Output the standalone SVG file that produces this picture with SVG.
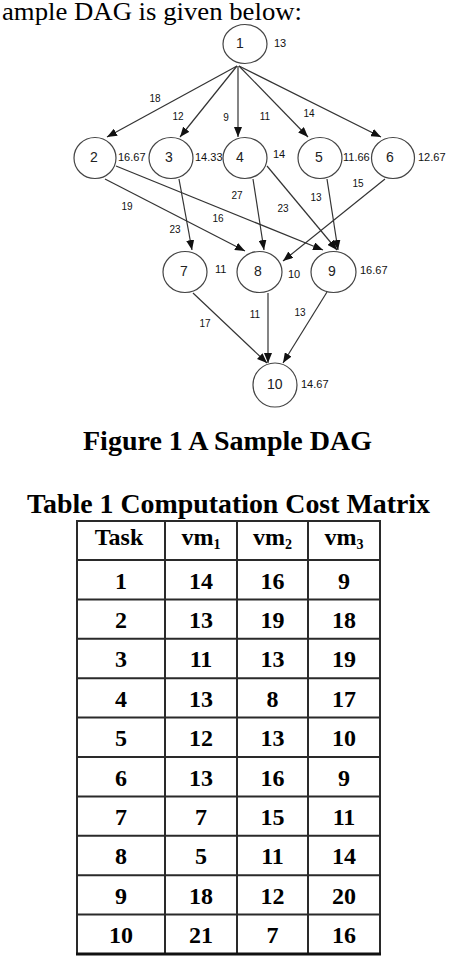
<svg xmlns="http://www.w3.org/2000/svg" width="468" height="956" viewBox="0 0 468 956">
<style>
.node{fill:#fff;stroke:#444;stroke-width:1.2}
.nt{font-family:"Liberation Sans",Arial,sans-serif;font-size:14px;fill:#222}
.wt{font-family:"Liberation Sans",Arial,sans-serif;font-size:11px;fill:#111}
.el{font-family:"Liberation Sans",Arial,sans-serif;font-size:10px;fill:#111;text-anchor:middle}
.edge{stroke:#333;stroke-width:1.2;fill:none;marker-end:url(#arr)}
.cap{font-family:"Liberation Serif","Times New Roman",serif;font-weight:bold;font-size:27px;fill:#000}
.top{font-family:"Liberation Serif","Times New Roman",serif;font-size:25px;fill:#000}
.grid{stroke:#2a2a2a;stroke-width:2;fill:none}
.td{font-family:"Liberation Serif","Times New Roman",serif;font-weight:bold;font-size:24px;fill:#000;text-anchor:middle}
</style>
<defs>
<marker id="arr" viewBox="0 0 10 8" refX="10" refY="4" markerWidth="10" markerHeight="8" markerUnits="userSpaceOnUse" orient="auto">
<path d="M0,0 L10,4 L0,8 Z" fill="#111"/>
</marker>
</defs>
<rect width="468" height="956" fill="#fff"/>
<text class="top" x="2" y="20" textLength="300" lengthAdjust="spacingAndGlyphs">ample DAG is given below:</text>

<g id="connectors">
<line class="edge" x1="237" y1="66" x2="107" y2="137"/>
<line class="edge" x1="237" y1="66" x2="180" y2="137"/>
<line class="edge" x1="238" y1="66" x2="238" y2="137"/>
<line class="edge" x1="239" y1="66" x2="308" y2="137"/>
<line class="edge" x1="239" y1="66" x2="381" y2="137"/>
<line class="edge" x1="105" y1="179" x2="245" y2="251"/>
<line class="edge" x1="116" y1="166" x2="323" y2="250"/>
<line class="edge" x1="179" y1="179" x2="192" y2="250"/>
<line class="edge" x1="253" y1="179" x2="264" y2="250"/>
<line class="edge" x1="267" y1="166" x2="337" y2="250"/>
<line class="edge" x1="327" y1="179" x2="338" y2="250"/>
<line class="edge" x1="385" y1="179" x2="283" y2="261"/>
<line class="edge" x1="193" y1="293" x2="267" y2="363"/>
<line class="edge" x1="268" y1="293" x2="268" y2="363"/>
<line class="edge" x1="327" y1="292" x2="283" y2="363"/>
<text class="el" x="155" y="102">18</text>
<text class="el" x="178" y="120">12</text>
<text class="el" x="226" y="121">9</text>
<text class="el" x="265" y="120">11</text>
<text class="el" x="309" y="117">14</text>
<text class="el" x="127" y="210">19</text>
<text class="el" x="218" y="222">16</text>
<text class="el" x="175" y="233">23</text>
<text class="el" x="237" y="199">27</text>
<text class="el" x="283" y="212">23</text>
<text class="el" x="316" y="201">13</text>
<text class="el" x="358" y="187">15</text>
<text class="el" x="205" y="327">17</text>
<text class="el" x="255" y="318">11</text>
<text class="el" x="300" y="316">13</text>
</g>

<g id="n1"><ellipse class="node" cx="245" cy="44" rx="22" ry="19.5"/><text class="nt" x="236" y="48">1</text><text class="wt" x="274" y="47">13</text></g>
<g id="n2"><ellipse class="node" cx="95" cy="158" rx="21" ry="20.5"/><text class="nt" x="90" y="162">2</text><text class="wt" x="118" y="161">16.67</text></g>
<g id="n3"><ellipse class="node" cx="171" cy="158" rx="22" ry="20.5"/><text class="nt" x="165" y="162">3</text><text class="wt" x="195" y="161">14.33</text></g>
<g id="n4"><ellipse class="node" cx="245" cy="158" rx="22" ry="20.5"/><text class="nt" x="236" y="162">4</text><text class="wt" x="273" y="158">14</text></g>
<g id="n5"><ellipse class="node" cx="320" cy="158" rx="22" ry="20.5"/><text class="nt" x="315" y="162">5</text><text class="wt" x="343" y="161">11.66</text></g>
<g id="n6"><ellipse class="node" cx="393" cy="158" rx="21.5" ry="20.5"/><text class="nt" x="386" y="162">6</text><text class="wt" x="418" y="161">12.67</text></g>
<g id="n7"><ellipse class="node" cx="185" cy="272" rx="22" ry="20.5"/><text class="nt" x="180" y="276">7</text><text class="wt" x="215" y="273">11</text></g>
<g id="n8"><ellipse class="node" cx="259.5" cy="272" rx="22.5" ry="20.5"/><text class="nt" x="254" y="276">8</text><text class="wt" x="288" y="278">10</text></g>
<g id="n9"><ellipse class="node" cx="333.5" cy="272" rx="22.5" ry="20.5"/><text class="nt" x="328" y="276">9</text><text class="wt" x="360" y="274">16.67</text></g>
<g id="n10"><ellipse class="node" cx="275" cy="385" rx="22" ry="22"/><text class="nt" x="267" y="389">10</text><text class="wt" x="301" y="388">14.67</text></g>

<text class="cap" x="83" y="450" textLength="289" lengthAdjust="spacingAndGlyphs">Figure 1 A Sample DAG</text>
<text class="cap" x="27" y="513" textLength="403" lengthAdjust="spacingAndGlyphs">Table 1 Computation Cost Matrix</text>

<g id="table">
<rect class="grid" x="77" y="521" width="303" height="433"/>
<line class="grid" x1="165" y1="521" x2="165" y2="954"/>
<line class="grid" x1="237" y1="521" x2="237" y2="954"/>
<line class="grid" x1="308" y1="521" x2="308" y2="954"/>
<line class="grid" x1="77" y1="560" x2="380" y2="560"/>
<line class="grid" x1="77" y1="599.4" x2="380" y2="599.4"/>
<line class="grid" x1="77" y1="638.8" x2="380" y2="638.8"/>
<line class="grid" x1="77" y1="678.2" x2="380" y2="678.2"/>
<line class="grid" x1="77" y1="717.6" x2="380" y2="717.6"/>
<line class="grid" x1="77" y1="757" x2="380" y2="757"/>
<line class="grid" x1="77" y1="796.4" x2="380" y2="796.4"/>
<line class="grid" x1="77" y1="835.8" x2="380" y2="835.8"/>
<line class="grid" x1="77" y1="875.2" x2="380" y2="875.2"/>
<line class="grid" x1="77" y1="914.6" x2="380" y2="914.6"/>
<line x1="76" y1="954" x2="381" y2="954" stroke="#111" stroke-width="3"/>
<text class="td" x="119" y="545">Task</text>
<text class="td" x="201" y="545">vm<tspan font-size="14" dy="4">1</tspan></text>
<text class="td" x="272.5" y="545">vm<tspan font-size="14" dy="4">2</tspan></text>
<text class="td" x="344" y="545">vm<tspan font-size="14" dy="4">3</tspan></text>
<g>
<text class="td" x="121" y="588.5">1</text><text class="td" x="201" y="588.5">14</text><text class="td" x="272.5" y="588.5">16</text><text class="td" x="344" y="588.5">9</text>
<text class="td" x="121" y="627.9">2</text><text class="td" x="201" y="627.9">13</text><text class="td" x="272.5" y="627.9">19</text><text class="td" x="344" y="627.9">18</text>
<text class="td" x="121" y="667.3">3</text><text class="td" x="201" y="667.3">11</text><text class="td" x="272.5" y="667.3">13</text><text class="td" x="344" y="667.3">19</text>
<text class="td" x="121" y="706.7">4</text><text class="td" x="201" y="706.7">13</text><text class="td" x="272.5" y="706.7">8</text><text class="td" x="344" y="706.7">17</text>
<text class="td" x="121" y="746.1">5</text><text class="td" x="201" y="746.1">12</text><text class="td" x="272.5" y="746.1">13</text><text class="td" x="344" y="746.1">10</text>
<text class="td" x="121" y="785.5">6</text><text class="td" x="201" y="785.5">13</text><text class="td" x="272.5" y="785.5">16</text><text class="td" x="344" y="785.5">9</text>
<text class="td" x="121" y="824.9">7</text><text class="td" x="201" y="824.9">7</text><text class="td" x="272.5" y="824.9">15</text><text class="td" x="344" y="824.9">11</text>
<text class="td" x="121" y="864.3">8</text><text class="td" x="201" y="864.3">5</text><text class="td" x="272.5" y="864.3">11</text><text class="td" x="344" y="864.3">14</text>
<text class="td" x="121" y="903.7">9</text><text class="td" x="201" y="903.7">18</text><text class="td" x="272.5" y="903.7">12</text><text class="td" x="344" y="903.7">20</text>
<text class="td" x="121" y="943.1">10</text><text class="td" x="201" y="943.1">21</text><text class="td" x="272.5" y="943.1">7</text><text class="td" x="344" y="943.1">16</text>
</g>
</g>
</svg>
